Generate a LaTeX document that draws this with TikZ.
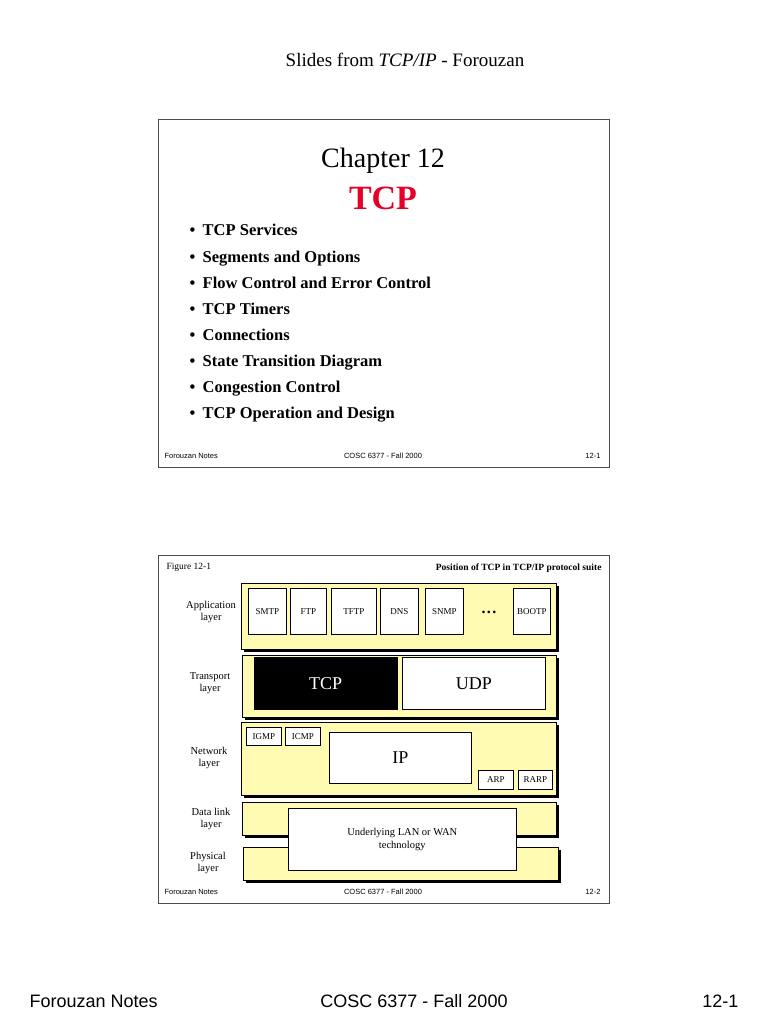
\documentclass[tikz,border=0pt]{standalone}
\usepackage{fontspec}
\setmainfont{Liberation Serif}
\setsansfont{Liberation Sans}
\begin{document}
\begin{tikzpicture}[x=1pt,y=-1pt,
  frame/.style={draw=black!70,line width=0.8pt},
  bar/.style={draw,fill=yellow!30!white,line width=0.6pt},
  shad/.style={fill=black},
  pbox/.style={draw,fill=white,line width=0.6pt,font=\fontsize{9}{10}\selectfont},
  lbl/.style={align=center,font=\fontsize{10.5}{12.5}\selectfont},
  foot/.style={font=\sffamily\fontsize{7.5}{8}\selectfont},
  bul/.style={anchor=base west,font=\bfseries\fontsize{16.5}{18}\selectfont}]
\useasboundingbox (0,0) rectangle (768,1024);
\node (title) at (405,60) {\fontsize{19}{22}\selectfont Slides from \textit{TCP/IP} - Forouzan};
% slide 1
\draw[frame] (158,119) rectangle (609,467);
\node (ch) at (383,161) {\fontsize{28}{32}\selectfont Chapter 12};
\node[text={rgb,255:red,230;green,0;blue,40},font=\bfseries\fontsize{34}{38}\selectfont] (tcpt) at (383,198) {TCP};
\foreach \t [count=\i] in {TCP Services,Segments and Options,Flow Control and Error Control,TCP Timers,Connections,State Transition Diagram,Congestion Control,TCP Operation and Design}
  \node[bul] (b\i) at (186,210+26*\i) {\textbullet\hspace{0.45em}\t};
\node[foot,anchor=west] (f1a) at (161,456) {Forouzan Notes};
\node[foot] (f1b) at (383,456) {COSC 6377 - Fall 2000};
\node[foot,anchor=east] (f1c) at (604,456) {12-1};
% slide 2
\draw[frame] (158,555) rectangle (609,903);
\node[anchor=west,font=\fontsize{9.5}{10}\selectfont] (fig) at (163,567) {Figure 12-1};
\node[anchor=east,font=\bfseries\fontsize{9.5}{10}\selectfont] (pos) at (605,568) {Position of TCP in TCP/IP protocol suite};
\foreach \a/\b/\c/\d in {241/583/556/649, 242/655/556/717, 241/722/556/795, 242/802/556/835, 243/847/558/880}{
  \fill[shad] (\a+3,\b+3) rectangle (\c+3,\d+3);
  \draw[bar] (\a,\b) rectangle (\c,\d);}
\foreach \a/\c/\t in {248/286/SMTP,290/326/FTP,331/376/TFTP,380/418/DNS,425/463/SNMP,513/550/BOOTP}
  \node[pbox,minimum width={\c-\a},minimum height=46,anchor=north west,inner sep=1pt] (p\t) at (\a,588) {\t};
\node[font=\bfseries\fontsize{16}{16}\selectfont] (dots) at (489,612) {.\hspace{1.5pt}.\hspace{1.5pt}.};
\node[draw,fill=black,text=white,minimum width=143,minimum height=52,anchor=north west,font=\fontsize{18}{20}\selectfont] (tcp) at (254,657) {TCP};
\node[pbox,minimum width=143,minimum height=52,anchor=north west,font=\fontsize{18}{20}\selectfont] (udp) at (402,657) {UDP};
\node[pbox,minimum width=35,minimum height=18,anchor=north west,inner sep=1pt] (igmp) at (246,727) {IGMP};
\node[pbox,minimum width=35,minimum height=18,anchor=north west,inner sep=1pt] (icmp) at (285,727) {ICMP};
\node[pbox,minimum width=142,minimum height=51,anchor=north west,font=\fontsize{18}{20}\selectfont] (ip) at (329,732) {IP};
\node[pbox,minimum width=35,minimum height=19,anchor=north west,inner sep=1pt] (arp) at (478,770) {ARP};
\node[pbox,minimum width=34,minimum height=19,anchor=north west,inner sep=1pt] (rarp) at (518,770) {RARP};
\node[pbox,minimum width=228,minimum height=62,anchor=north west,align=center,font=\fontsize{10.5}{13}\selectfont] (lan) at (288,808) {Underlying LAN or WAN\\technology};
\node[lbl] (la) at (211,612) {Application\\layer};
\node[lbl] (lt) at (210,683) {Transport\\layer};
\node[lbl] (ln) at (209,758) {Network\\layer};
\node[lbl] (ld) at (211,819) {Data link\\layer};
\node[lbl] (lp) at (208,863) {Physical\\layer};
\node[foot,anchor=west] (f2a) at (161,892) {Forouzan Notes};
\node[foot] (f2b) at (383,892) {COSC 6377 - Fall 2000};
\node[foot,anchor=east] (f2c) at (604,892) {12-2};
\node[font=\sffamily\fontsize{18}{20}\selectfont,anchor=west] (pf1) at (26,1001) {Forouzan Notes};
\node[font=\sffamily\fontsize{18}{20}\selectfont] (pf2) at (414,1001) {COSC 6377 - Fall 2000};
\node[font=\sffamily\fontsize{18}{20}\selectfont,anchor=east] (pf3) at (742,1001) {12-1};
\end{tikzpicture}
\end{document}
